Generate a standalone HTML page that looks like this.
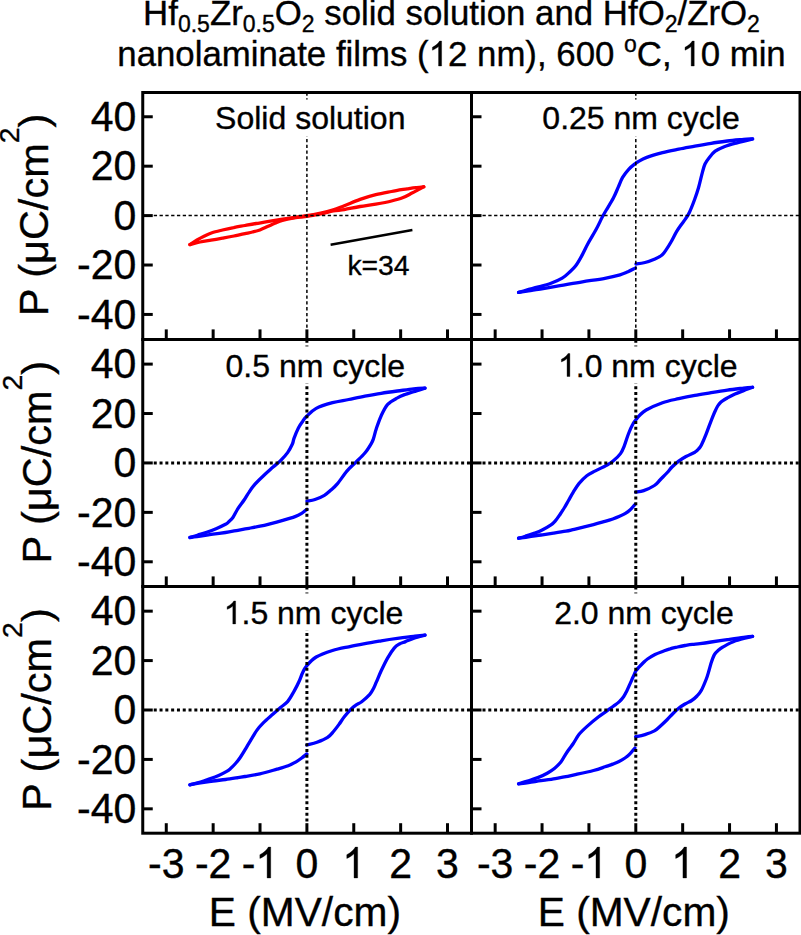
<!DOCTYPE html><html><head><meta charset="utf-8"><style>html,body{margin:0;padding:0;background:#fff;width:801px;height:935px;overflow:hidden}</style></head><body><svg width="801" height="935" viewBox="0 0 801 935" style="display:block"><defs><path id="g1" d="M763 0H583V1147Q518 1085 412 1023Q306 961 221 930V1104Q372 1175 485 1276Q598 1377 645 1466H763Z"></path></defs>
<rect width="801" height="935" fill="#fff"></rect>
<text x="451.5" y="25" font-size="34.8" text-anchor="middle" font-family="Liberation Sans, sans-serif" stroke="#000" stroke-width="0.35">Hf<tspan font-size="23" dy="7">0.5</tspan><tspan dy="-7">Zr</tspan><tspan font-size="23" dy="7">0.5</tspan><tspan dy="-7">O</tspan><tspan font-size="23" dy="7">2</tspan><tspan dy="-7"> solid solution and HfO</tspan><tspan font-size="23" dy="7">2</tspan><tspan dy="-7">/ZrO</tspan><tspan font-size="23" dy="7">2</tspan></text>
<text x="451.5" y="66" font-size="34.8" text-anchor="middle" font-family="Liberation Sans, sans-serif" stroke="#000" stroke-width="0.35">nanolaminate films ( 2 nm), 600 <tspan font-size="23" dy="-14">o</tspan><tspan dy="14">C,  0 min</tspan></text>
<g fill="none" stroke-width="3.3" stroke-linejoin="round" stroke-linecap="round">
<path stroke="#ff0000" d="M189.9,244.6 C191.1,243.8 194.6,241.4 197.0,240.0 C199.4,238.6 202.0,237.2 204.5,236.0 C207.0,234.8 209.0,233.8 212.0,232.8 C215.0,231.8 218.9,230.9 222.5,230.0 C226.1,229.1 229.9,228.3 233.7,227.6 C237.4,226.8 241.3,226.2 245.0,225.5 C248.7,224.8 252.3,224.1 256.0,223.5 C259.7,222.9 263.2,222.4 267.4,221.7 C271.5,221.0 276.6,220.2 280.9,219.5 C285.2,218.8 289.0,218.2 293.0,217.6 C297.0,217.0 300.4,216.7 305.0,216.0 C309.6,215.3 316.0,214.2 320.7,213.2 C325.4,212.2 329.4,211.1 333.3,209.8 C337.2,208.6 339.8,207.4 344.3,205.7 C348.8,204.0 354.9,201.2 360.1,199.4 C365.4,197.6 370.6,196.0 375.8,194.7 C381.0,193.4 386.3,192.5 391.5,191.5 C396.7,190.5 403.1,189.5 407.2,188.8 C411.3,188.2 413.2,187.9 416.0,187.6 C418.8,187.3 422.5,186.9 423.8,186.8"></path>
<path stroke="#ff0000" d="M189.9,244.6 C191.6,244.2 196.5,242.7 200.0,242.0 C203.5,241.3 207.2,240.8 211.0,240.2 C214.8,239.6 218.7,238.9 222.5,238.2 C226.3,237.5 230.2,236.8 234.0,236.0 C237.8,235.2 241.9,234.4 245.0,233.7 C248.1,233.0 250.0,232.6 252.5,232.0 C255.0,231.4 257.4,230.9 259.9,230.0 C262.4,229.1 265.0,227.7 267.5,226.6 C270.0,225.5 272.4,224.2 274.9,223.2 C277.4,222.2 279.4,221.2 282.4,220.4 C285.4,219.6 289.2,218.8 293.0,218.2 C296.8,217.5 300.4,217.2 305.0,216.5 C309.6,215.8 316.0,214.7 320.7,213.8 C325.4,212.9 329.4,211.7 333.3,211.0 C337.2,210.3 339.8,210.3 344.3,209.6 C348.8,208.8 354.9,207.4 360.1,206.5 C365.4,205.6 370.6,205.0 375.8,204.1 C381.0,203.2 387.1,202.1 391.5,201.0 C395.9,199.9 399.1,199.1 402.5,197.8 C405.9,196.5 409.4,194.4 412.0,193.1 C414.6,191.8 416.0,190.9 418.0,189.8 C420.0,188.8 422.8,187.3 423.8,186.8"></path>
<path stroke="#0000ff" d="M752.6,138.9 C751.1,139.0 747.8,139.1 743.6,139.4 C739.4,139.8 732.8,140.3 727.4,141.0 C722.0,141.7 716.6,142.4 711.2,143.3 C705.8,144.2 700.3,145.2 694.9,146.2 C689.5,147.2 684.1,148.1 678.7,149.2 C673.3,150.3 667.9,151.3 662.5,152.7 C657.1,154.1 650.3,156.1 646.2,157.6 C642.1,159.1 639.8,160.8 638.1,161.7 C636.4,162.6 637.4,161.9 635.8,163.2 C634.2,164.5 630.9,166.9 628.7,169.3 C626.5,171.7 624.3,174.5 622.6,177.4 C620.9,180.3 620.0,183.2 618.5,186.6 C617.0,190.0 615.5,193.9 613.5,197.8 C611.5,201.7 608.2,206.8 606.3,210.0 C604.4,213.2 604.0,213.9 602.3,217.1 C600.6,220.3 598.6,224.9 596.2,229.3 C593.8,233.7 590.3,239.3 588.0,243.5 C585.7,247.7 584.4,250.9 582.4,254.6 C580.4,258.3 577.9,262.8 575.7,265.8 C573.5,268.8 571.2,270.5 569.0,272.6 C566.8,274.7 565.2,276.4 562.2,278.2 C559.2,280.0 555.1,281.8 551.0,283.3 C546.9,284.8 541.6,286.1 537.5,287.2 C533.4,288.3 529.6,289.1 526.5,290.0 C523.4,290.9 519.9,292.0 518.6,292.4"></path>
<path stroke="#0000ff" d="M518.6,292.4 C520.0,292.2 522.9,291.8 527.0,291.2 C531.1,290.6 537.6,289.4 543.1,288.5 C548.6,287.6 553.5,286.8 560.0,285.7 C566.5,284.6 574.9,283.0 582.4,281.8 C589.9,280.6 598.6,279.5 604.9,278.3 C611.2,277.1 616.1,275.9 620.0,274.8 C623.9,273.7 625.4,272.8 628.0,271.7 C630.6,270.6 634.2,268.6 635.5,268.0"></path>
<path stroke="#0000ff" d="M636.0,264.0 C637.5,263.8 641.8,263.3 645.0,262.5 C648.2,261.7 652.2,260.2 655.0,259.0 C657.8,257.8 660.1,256.6 662.0,255.0 C663.9,253.4 664.9,251.6 666.4,249.4 C667.9,247.2 669.3,245.0 671.0,242.0 C672.7,239.0 675.0,234.2 676.7,231.4 C678.4,228.6 679.5,227.1 681.0,225.0 C682.5,222.9 684.3,220.7 685.7,218.6 C687.1,216.5 688.0,215.4 689.5,212.2 C691.0,209.0 693.2,203.4 694.7,199.3 C696.2,195.2 697.2,192.3 698.5,187.8 C699.8,183.3 701.3,176.4 702.4,172.4 C703.5,168.4 703.9,166.4 705.0,164.0 C706.1,161.6 707.1,160.3 708.8,158.2 C710.5,156.1 712.6,153.1 715.2,151.2 C717.8,149.3 720.6,148.1 724.2,146.7 C727.8,145.3 732.3,144.1 737.0,142.8 C741.7,141.5 750.0,139.6 752.6,139.0"></path>
<path stroke="#0000ff" d="M425.0,388.1 C423.1,388.2 418.2,388.4 413.6,388.9 C409.0,389.4 402.8,390.3 397.4,391.0 C392.0,391.7 386.6,392.4 381.2,393.3 C375.8,394.2 370.3,395.2 364.9,396.2 C359.5,397.2 354.1,398.4 348.7,399.5 C343.3,400.6 337.9,401.2 332.5,402.7 C327.1,404.2 320.5,406.1 316.2,408.4 C311.9,410.7 308.7,414.4 306.5,416.5 C304.3,418.6 304.2,419.1 302.9,421.0 C301.5,422.9 299.9,425.1 298.4,428.0 C296.9,430.9 295.0,435.7 294.0,438.4 C293.0,441.1 293.5,441.6 292.4,444.0 C291.3,446.4 289.5,449.9 287.6,452.6 C285.7,455.3 283.2,457.9 280.8,460.3 C278.4,462.7 276.0,464.5 273.1,467.1 C270.2,469.7 266.6,472.8 263.5,475.7 C260.4,478.6 257.2,481.7 254.8,484.4 C252.4,487.1 250.8,489.5 249.1,492.1 C247.3,494.7 246.2,497.0 244.3,499.8 C242.4,502.6 239.8,505.8 237.9,508.7 C236.0,511.6 234.4,515.4 232.9,517.5 C231.4,519.6 230.2,520.4 229.0,521.5 C227.8,522.6 227.7,523.1 225.5,524.3 C223.3,525.5 219.2,527.4 216.1,528.7 C213.0,530.0 209.8,531.2 206.7,532.3 C203.6,533.4 200.2,534.3 197.4,535.2 C194.6,536.1 191.2,537.1 189.9,537.5"></path>
<path stroke="#0000ff" d="M189.9,537.5 C191.7,537.2 196.7,536.5 200.5,536.0 C204.3,535.5 208.8,534.8 213.0,534.2 C217.2,533.6 221.3,533.1 225.5,532.5 C229.7,531.9 234.0,531.0 237.9,530.3 C241.8,529.6 245.3,529.0 249.0,528.3 C252.7,527.6 256.5,527.0 260.0,526.2 C263.5,525.5 266.2,524.8 270.0,523.8 C273.8,522.8 278.6,521.5 282.8,520.3 C287.0,519.1 291.9,517.7 295.0,516.6 C298.1,515.5 299.2,514.9 301.2,513.7 C303.2,512.5 305.9,510.0 306.9,509.3"></path>
<path stroke="#0000ff" d="M306.9,501.2 C308.2,500.9 312.1,500.5 315.0,499.5 C317.9,498.5 321.7,496.9 324.4,495.3 C327.1,493.7 328.9,491.9 331.0,490.0 C333.1,488.1 334.6,487.1 337.3,483.9 C340.0,480.7 344.1,474.4 347.1,470.9 C350.1,467.4 352.2,465.8 355.2,462.8 C358.2,459.8 362.2,456.2 364.9,453.0 C367.6,449.8 370.0,445.7 371.4,443.3 C372.8,440.9 372.7,440.9 373.5,438.5 C374.3,436.1 375.0,432.5 376.3,428.7 C377.6,424.9 379.3,419.8 381.2,415.7 C383.1,411.6 385.0,407.4 387.7,404.4 C390.4,401.4 394.5,399.5 397.4,397.9 C400.3,396.2 402.3,395.5 405.0,394.5 C407.7,393.5 410.3,392.8 413.6,391.7 C416.9,390.6 423.1,388.7 425.0,388.1"></path>
<path stroke="#0000ff" d="M752.6,387.3 C751.1,387.4 747.8,387.6 743.6,388.1 C739.4,388.6 732.8,389.3 727.4,390.1 C722.0,390.9 716.6,391.8 711.2,392.7 C705.8,393.6 700.3,394.4 694.9,395.4 C689.5,396.4 684.1,397.5 678.7,398.7 C673.3,399.9 667.9,400.8 662.5,402.7 C657.1,404.6 650.0,407.9 646.2,410.0 C642.5,412.1 641.6,413.5 640.0,415.0 C638.4,416.5 637.7,417.5 636.5,419.0 C635.3,420.5 634.2,421.5 632.9,424.0 C631.5,426.5 629.8,430.4 628.4,434.0 C627.0,437.6 625.6,442.6 624.3,445.9 C623.0,449.2 622.4,451.0 620.5,453.6 C618.6,456.2 615.2,459.3 612.8,461.3 C610.4,463.3 608.9,464.0 606.0,465.6 C603.1,467.2 598.6,469.2 595.4,470.9 C592.2,472.6 589.5,473.6 586.8,475.7 C584.1,477.8 581.4,480.7 579.1,483.4 C576.9,486.1 575.1,489.2 573.3,492.1 C571.5,495.0 570.0,497.9 568.5,500.5 C567.0,503.1 565.9,505.2 564.5,507.5 C563.1,509.8 561.5,512.3 560.0,514.5 C558.5,516.7 557.0,519.0 555.5,520.7 C554.0,522.4 553.2,523.4 551.0,524.9 C548.8,526.4 544.9,528.6 542.2,530.0 C539.5,531.4 537.5,532.1 534.7,533.1 C531.9,534.1 528.1,535.4 525.4,536.2 C522.7,537.1 519.7,537.9 518.6,538.2"></path>
<path stroke="#0000ff" d="M518.6,538.2 C520.2,538.0 524.8,537.4 528.5,536.9 C532.2,536.4 536.8,535.6 541.0,535.0 C545.2,534.4 549.4,533.7 553.5,533.1 C557.6,532.5 562.4,531.8 565.9,531.2 C569.4,530.6 569.7,530.4 574.3,529.3 C578.9,528.2 588.4,525.9 593.5,524.6 C598.6,523.3 601.8,522.3 605.0,521.4 C608.2,520.5 610.5,519.8 612.8,519.0 C615.1,518.2 617.0,517.5 619.0,516.6 C621.0,515.7 623.2,514.7 625.0,513.6 C626.8,512.5 628.1,511.7 629.7,510.2 C631.4,508.7 634.0,505.5 634.9,504.6"></path>
<path stroke="#0000ff" d="M635.6,492.2 C637.0,491.9 640.6,491.7 643.7,490.6 C646.8,489.5 651.7,487.3 654.4,485.5 C657.1,483.7 657.9,482.2 660.0,480.0 C662.1,477.8 665.3,474.7 667.3,472.5 C669.3,470.3 670.1,468.9 672.0,467.0 C673.9,465.1 676.4,462.9 678.7,461.1 C681.0,459.4 683.3,458.0 686.0,456.5 C688.7,455.0 692.8,453.4 694.9,452.2 C697.0,450.9 697.4,450.2 698.5,449.0 C699.6,447.8 700.1,447.5 701.4,444.9 C702.7,442.3 704.7,437.7 706.3,433.6 C707.9,429.6 709.8,424.1 711.2,420.6 C712.6,417.1 713.4,414.9 714.5,412.5 C715.6,410.1 716.6,407.8 717.7,406.0 C718.8,404.2 719.4,403.4 721.0,402.0 C722.6,400.6 725.1,399.2 727.4,397.9 C729.7,396.6 732.3,395.2 735.0,394.0 C737.7,392.8 740.7,391.7 743.6,390.6 C746.5,389.5 751.1,387.9 752.6,387.3"></path>
<path stroke="#0000ff" d="M425.0,635.1 C423.1,635.3 418.2,635.9 413.6,636.4 C409.0,636.9 402.8,637.7 397.4,638.4 C392.0,639.1 386.6,639.9 381.2,640.8 C375.8,641.7 370.3,642.6 364.9,643.6 C359.5,644.6 354.1,645.6 348.7,646.8 C343.3,647.9 337.9,648.8 332.5,650.5 C327.1,652.2 320.5,654.4 316.2,657.0 C311.9,659.6 308.8,663.3 306.5,666.0 C304.2,668.7 303.7,670.6 302.5,673.0 C301.3,675.4 300.9,677.4 299.5,680.5 C298.1,683.6 296.0,687.9 294.0,691.4 C292.0,694.9 289.8,699.0 287.6,701.6 C285.4,704.2 283.2,705.2 280.8,707.3 C278.4,709.4 276.0,711.5 273.1,714.1 C270.2,716.7 266.2,720.0 263.5,722.7 C260.8,725.4 258.7,727.8 256.8,730.4 C254.9,733.0 253.8,735.2 252.0,738.1 C250.2,741.0 248.1,744.6 246.2,747.8 C244.3,751.0 242.2,754.6 240.4,757.2 C238.6,759.8 237.2,761.6 235.5,763.5 C233.8,765.4 232.0,767.3 230.5,768.6 C229.0,769.9 228.6,770.3 226.7,771.4 C224.8,772.5 222.0,774.0 219.2,775.2 C216.4,776.4 212.9,777.7 209.8,778.8 C206.7,779.9 203.8,781.0 200.5,782.0 C197.2,783.0 191.7,784.3 189.9,784.8"></path>
<path stroke="#0000ff" d="M189.9,784.8 C191.7,784.5 196.7,783.5 200.5,782.9 C204.3,782.3 208.8,781.6 213.0,781.0 C217.2,780.4 221.3,780.1 225.5,779.5 C229.7,778.9 234.7,778.1 237.9,777.6 C241.1,777.1 241.2,777.1 244.9,776.5 C248.6,775.9 254.5,775.0 259.9,773.8 C265.2,772.6 272.3,770.5 277.0,769.2 C281.7,767.9 285.1,767.0 288.2,765.8 C291.3,764.6 293.4,763.4 295.7,762.1 C297.9,760.8 299.8,759.4 301.7,758.0 C303.6,756.6 306.0,754.6 306.9,753.9"></path>
<path stroke="#0000ff" d="M306.9,745.0 C308.6,744.5 313.6,743.6 317.0,742.3 C320.4,741.0 324.9,739.2 327.6,737.4 C330.4,735.6 331.6,733.7 333.5,731.5 C335.4,729.3 337.2,726.9 339.0,724.4 C340.8,721.9 342.6,718.9 344.5,716.5 C346.4,714.1 348.5,711.7 350.3,709.8 C352.1,707.9 353.6,706.6 355.5,705.3 C357.4,703.9 359.3,703.5 361.7,701.7 C364.1,699.9 367.8,696.6 369.8,694.4 C371.8,692.2 372.4,690.5 373.5,688.5 C374.6,686.5 375.0,685.2 376.3,682.2 C377.6,679.2 379.3,674.9 381.2,670.8 C383.1,666.7 385.5,661.6 387.7,657.8 C389.9,654.0 392.3,650.4 394.2,648.1 C396.1,645.8 397.1,645.3 399.0,644.2 C400.9,643.1 403.0,642.6 405.5,641.6 C408.0,640.6 410.8,639.3 414.0,638.2 C417.2,637.1 423.2,635.6 425.0,635.1"></path>
<path stroke="#0000ff" d="M752.6,636.4 C751.1,636.5 747.8,636.8 743.6,637.3 C739.4,637.8 732.8,638.8 727.4,639.6 C722.0,640.4 715.8,641.3 711.2,642.0 C706.6,642.7 703.1,643.2 700.0,643.6 C696.9,644.0 694.9,644.1 692.4,644.4 C689.9,644.7 687.5,645.1 685.0,645.5 C682.5,645.9 680.0,646.4 677.5,647.0 C675.0,647.6 672.5,648.1 670.0,648.9 C667.5,649.6 665.0,650.6 662.5,651.5 C660.0,652.4 657.5,653.2 655.0,654.5 C652.5,655.8 649.4,657.7 647.5,659.0 C645.6,660.3 644.9,661.1 643.5,662.5 C642.1,663.9 640.3,665.8 639.0,667.2 C637.7,668.6 636.8,669.4 635.8,671.0 C634.8,672.6 634.2,674.6 633.2,676.8 C632.2,678.9 631.1,681.5 630.0,683.9 C628.9,686.2 627.9,688.8 626.8,690.9 C625.7,693.0 624.9,694.9 623.6,696.7 C622.3,698.5 620.8,700.3 619.1,701.9 C617.4,703.5 615.3,704.8 613.3,706.3 C611.3,707.8 609.4,709.0 606.9,710.8 C604.4,712.6 601.6,714.4 598.3,717.0 C594.9,719.6 590.0,723.7 586.8,726.6 C583.6,729.5 581.4,731.5 579.1,734.3 C576.9,737.1 575.1,740.9 573.3,743.5 C571.5,746.1 569.8,748.1 568.5,750.0 C567.2,751.9 566.6,752.8 565.3,754.8 C564.0,756.8 562.7,759.8 560.9,762.0 C559.1,764.2 557.0,766.3 554.7,768.2 C552.4,770.1 550.0,771.6 547.2,773.2 C544.4,774.8 540.9,776.4 537.8,777.6 C534.7,778.9 531.7,779.7 528.5,780.7 C525.3,781.7 520.2,783.3 518.6,783.8"></path>
<path stroke="#0000ff" d="M518.6,783.8 C520.2,783.6 524.8,783.1 528.5,782.6 C532.2,782.1 536.8,781.3 541.0,780.7 C545.2,780.1 549.4,779.5 553.5,778.8 C557.6,778.1 562.4,777.4 565.9,776.7 C569.4,776.0 569.7,775.8 574.3,774.8 C578.9,773.8 588.4,771.8 593.5,770.5 C598.6,769.2 601.8,767.9 605.0,766.8 C608.2,765.7 610.5,765.0 612.8,764.1 C615.1,763.2 617.0,762.5 619.0,761.5 C621.0,760.5 623.2,759.2 625.0,758.0 C626.8,756.8 628.1,755.9 629.7,754.2 C631.4,752.5 634.0,749.0 634.9,748.0"></path>
<path stroke="#0000ff" d="M635.6,736.7 C637.2,736.4 641.9,735.6 645.0,734.6 C648.1,733.6 651.7,732.4 654.4,730.9 C657.1,729.4 658.9,727.4 661.0,725.5 C663.1,723.6 665.3,721.5 667.3,719.5 C669.3,717.5 671.1,715.4 673.0,713.5 C674.9,711.6 676.7,709.8 678.7,708.2 C680.7,706.6 682.8,705.3 685.0,704.0 C687.2,702.7 689.7,701.8 691.7,700.5 C693.7,699.2 695.4,697.7 697.0,696.0 C698.6,694.3 699.9,693.1 701.4,690.3 C702.9,687.5 705.0,682.3 706.3,679.0 C707.6,675.7 708.2,673.2 709.0,670.5 C709.8,667.8 710.3,665.4 711.2,662.7 C712.1,660.1 713.3,656.6 714.4,654.6 C715.5,652.6 716.6,651.7 718.0,650.5 C719.4,649.3 719.6,648.9 722.5,647.3 C725.4,645.7 730.5,642.6 735.5,640.8 C740.5,639.0 749.8,637.1 752.6,636.4"></path>
</g>
<g stroke="#000" stroke-width="1.5" stroke-dasharray="3.3 2.5">
<line x1="153.75" y1="215.6" x2="471.5" y2="215.6"></line>
<line x1="306.9" y1="327.79999999999995" x2="306.9" y2="92.5"></line>
<line x1="482.5" y1="215.6" x2="800" y2="215.6"></line>
<line x1="635.8" y1="327.79999999999995" x2="635.8" y2="92.5"></line>
</g>
<g stroke="#000" stroke-width="3" stroke-dasharray="3 2.8">
<line x1="153.75" y1="462.95" x2="471.5" y2="462.95"></line>
<line x1="306.9" y1="574.8" x2="306.9" y2="339.4"></line>
<line x1="482.5" y1="462.95" x2="800" y2="462.95"></line>
<line x1="635.8" y1="574.8" x2="635.8" y2="339.4"></line>
</g>
<g stroke="#000" stroke-width="3" stroke-dasharray="3 2.8">
<line x1="153.75" y1="710.0" x2="471.5" y2="710.0"></line>
<line x1="306.9" y1="821.6" x2="306.9" y2="586.4"></line>
<line x1="482.5" y1="710.0" x2="800" y2="710.0"></line>
<line x1="635.8" y1="821.6" x2="635.8" y2="586.4"></line>
</g>
<line x1="330.6" y1="244.7" x2="412.4" y2="230" stroke="#000" stroke-width="2.4"></line>
<text x="378.5" y="274.8" font-size="28.3" text-anchor="middle" font-family="Liberation Sans, sans-serif" stroke="#000" stroke-width="0.35">k=34</text>
<rect x="212.9" y="99.5" width="194.7" height="37" fill="#fff"></rect>
<text x="310.25" y="129.29999999999998" font-size="32" text-anchor="middle" font-family="Liberation Sans, sans-serif" stroke="#000" stroke-width="0.35">Solid solution</text>
<rect x="540.1" y="99.5" width="201.9" height="37" fill="#fff"></rect>
<text x="641.05" y="129.29999999999998" font-size="32" text-anchor="middle" font-family="Liberation Sans, sans-serif" stroke="#000" stroke-width="0.35">0.25 nm cycle</text>
<rect x="222.6" y="346.4" width="185.5" height="37" fill="#fff"></rect>
<text x="315.35" y="376.5" font-size="32" text-anchor="middle" font-family="Liberation Sans, sans-serif" stroke="#000" stroke-width="0.35">0.5 nm cycle</text>
<rect x="556.2" y="346.4" width="183.1" height="37" fill="#fff"></rect>
<text x="647.75" y="376.5" font-size="32" text-anchor="middle" font-family="Liberation Sans, sans-serif" stroke="#000" stroke-width="0.35"> .0 nm cycle</text>
<rect x="222.2" y="593.4" width="182.6" height="37" fill="#fff"></rect>
<text x="313.5" y="623.9000000000001" font-size="32" text-anchor="middle" font-family="Liberation Sans, sans-serif" stroke="#000" stroke-width="0.35"> .5 nm cycle</text>
<rect x="551.4" y="593.4" width="185.1" height="37" fill="#fff"></rect>
<text x="643.95" y="623.9000000000001" font-size="32" text-anchor="middle" font-family="Liberation Sans, sans-serif" stroke="#000" stroke-width="0.35">2.0 nm cycle</text>
<g stroke="#000" stroke-width="3" fill="none" stroke-linecap="square">
<rect x="142.75" y="92.5" width="657.25" height="740.7"></rect>
<line x1="471.5" y1="92.5" x2="471.5" y2="833.2"></line>
<line x1="142.75" y1="339.4" x2="800" y2="339.4"></line>
<line x1="142.75" y1="586.4" x2="800" y2="586.4"></line>
</g>
<g stroke="#000" stroke-width="3" fill="none">
<line x1="142.75" y1="314.44" x2="152.75" y2="314.44"></line>
<line x1="142.75" y1="265.02" x2="152.75" y2="265.02"></line>
<line x1="142.75" y1="215.60" x2="152.75" y2="215.60"></line>
<line x1="142.75" y1="166.18" x2="152.75" y2="166.18"></line>
<line x1="142.75" y1="116.76" x2="152.75" y2="116.76"></line>
<line x1="166.27" y1="339.4" x2="166.27" y2="329.4"></line>
<line x1="213.15" y1="339.4" x2="213.15" y2="329.4"></line>
<line x1="260.02" y1="339.4" x2="260.02" y2="329.4"></line>
<line x1="306.90" y1="339.4" x2="306.90" y2="329.4"></line>
<line x1="353.77" y1="339.4" x2="353.77" y2="329.4"></line>
<line x1="400.65" y1="339.4" x2="400.65" y2="329.4"></line>
<line x1="447.52" y1="339.4" x2="447.52" y2="329.4"></line>
<line x1="142.75" y1="561.79" x2="152.75" y2="561.79"></line>
<line x1="142.75" y1="512.37" x2="152.75" y2="512.37"></line>
<line x1="142.75" y1="462.95" x2="152.75" y2="462.95"></line>
<line x1="142.75" y1="413.53" x2="152.75" y2="413.53"></line>
<line x1="142.75" y1="364.11" x2="152.75" y2="364.11"></line>
<line x1="166.27" y1="586.4" x2="166.27" y2="576.4"></line>
<line x1="213.15" y1="586.4" x2="213.15" y2="576.4"></line>
<line x1="260.02" y1="586.4" x2="260.02" y2="576.4"></line>
<line x1="306.90" y1="586.4" x2="306.90" y2="576.4"></line>
<line x1="353.77" y1="586.4" x2="353.77" y2="576.4"></line>
<line x1="400.65" y1="586.4" x2="400.65" y2="576.4"></line>
<line x1="447.52" y1="586.4" x2="447.52" y2="576.4"></line>
<line x1="142.75" y1="808.84" x2="152.75" y2="808.84"></line>
<line x1="142.75" y1="759.42" x2="152.75" y2="759.42"></line>
<line x1="142.75" y1="710.00" x2="152.75" y2="710.00"></line>
<line x1="142.75" y1="660.58" x2="152.75" y2="660.58"></line>
<line x1="142.75" y1="611.16" x2="152.75" y2="611.16"></line>
<line x1="166.27" y1="833.2" x2="166.27" y2="823.2"></line>
<line x1="213.15" y1="833.2" x2="213.15" y2="823.2"></line>
<line x1="260.02" y1="833.2" x2="260.02" y2="823.2"></line>
<line x1="306.90" y1="833.2" x2="306.90" y2="823.2"></line>
<line x1="353.77" y1="833.2" x2="353.77" y2="823.2"></line>
<line x1="400.65" y1="833.2" x2="400.65" y2="823.2"></line>
<line x1="447.52" y1="833.2" x2="447.52" y2="823.2"></line>
<line x1="471.5" y1="314.44" x2="481.5" y2="314.44"></line>
<line x1="471.5" y1="265.02" x2="481.5" y2="265.02"></line>
<line x1="471.5" y1="215.60" x2="481.5" y2="215.60"></line>
<line x1="471.5" y1="166.18" x2="481.5" y2="166.18"></line>
<line x1="471.5" y1="116.76" x2="481.5" y2="116.76"></line>
<line x1="495.17" y1="339.4" x2="495.17" y2="329.4"></line>
<line x1="542.05" y1="339.4" x2="542.05" y2="329.4"></line>
<line x1="588.92" y1="339.4" x2="588.92" y2="329.4"></line>
<line x1="635.80" y1="339.4" x2="635.80" y2="329.4"></line>
<line x1="682.67" y1="339.4" x2="682.67" y2="329.4"></line>
<line x1="729.55" y1="339.4" x2="729.55" y2="329.4"></line>
<line x1="776.42" y1="339.4" x2="776.42" y2="329.4"></line>
<line x1="471.5" y1="561.79" x2="481.5" y2="561.79"></line>
<line x1="471.5" y1="512.37" x2="481.5" y2="512.37"></line>
<line x1="471.5" y1="462.95" x2="481.5" y2="462.95"></line>
<line x1="471.5" y1="413.53" x2="481.5" y2="413.53"></line>
<line x1="471.5" y1="364.11" x2="481.5" y2="364.11"></line>
<line x1="495.17" y1="586.4" x2="495.17" y2="576.4"></line>
<line x1="542.05" y1="586.4" x2="542.05" y2="576.4"></line>
<line x1="588.92" y1="586.4" x2="588.92" y2="576.4"></line>
<line x1="635.80" y1="586.4" x2="635.80" y2="576.4"></line>
<line x1="682.67" y1="586.4" x2="682.67" y2="576.4"></line>
<line x1="729.55" y1="586.4" x2="729.55" y2="576.4"></line>
<line x1="776.42" y1="586.4" x2="776.42" y2="576.4"></line>
<line x1="471.5" y1="808.84" x2="481.5" y2="808.84"></line>
<line x1="471.5" y1="759.42" x2="481.5" y2="759.42"></line>
<line x1="471.5" y1="710.00" x2="481.5" y2="710.00"></line>
<line x1="471.5" y1="660.58" x2="481.5" y2="660.58"></line>
<line x1="471.5" y1="611.16" x2="481.5" y2="611.16"></line>
<line x1="495.17" y1="833.2" x2="495.17" y2="823.2"></line>
<line x1="542.05" y1="833.2" x2="542.05" y2="823.2"></line>
<line x1="588.92" y1="833.2" x2="588.92" y2="823.2"></line>
<line x1="635.80" y1="833.2" x2="635.80" y2="823.2"></line>
<line x1="682.67" y1="833.2" x2="682.67" y2="823.2"></line>
<line x1="729.55" y1="833.2" x2="729.55" y2="823.2"></line>
<line x1="776.42" y1="833.2" x2="776.42" y2="823.2"></line>
</g>
<g font-size="41" text-anchor="end" font-family="Liberation Sans, sans-serif" stroke="#000" stroke-width="0.35">
<text transform="translate(136.3 313.14) scale(1 1.05)" x="0" y="14.7">-40</text>
<text transform="translate(136.3 263.72) scale(1 1.05)" x="0" y="14.7">-20</text>
<text transform="translate(136.3 214.30) scale(1 1.05)" x="0" y="14.7">0</text>
<text transform="translate(136.3 164.88) scale(1 1.05)" x="0" y="14.7">20</text>
<text transform="translate(136.3 115.46) scale(1 1.05)" x="0" y="14.7">40</text>
<text transform="translate(136.3 560.49) scale(1 1.05)" x="0" y="14.7">-40</text>
<text transform="translate(136.3 511.07) scale(1 1.05)" x="0" y="14.7">-20</text>
<text transform="translate(136.3 461.65) scale(1 1.05)" x="0" y="14.7">0</text>
<text transform="translate(136.3 412.23) scale(1 1.05)" x="0" y="14.7">20</text>
<text transform="translate(136.3 362.81) scale(1 1.05)" x="0" y="14.7">40</text>
<text transform="translate(136.3 807.54) scale(1 1.05)" x="0" y="14.7">-40</text>
<text transform="translate(136.3 758.12) scale(1 1.05)" x="0" y="14.7">-20</text>
<text transform="translate(136.3 708.70) scale(1 1.05)" x="0" y="14.7">0</text>
<text transform="translate(136.3 659.28) scale(1 1.05)" x="0" y="14.7">20</text>
<text transform="translate(136.3 609.86) scale(1 1.05)" x="0" y="14.7">40</text>
</g>
<g font-size="41" text-anchor="middle" font-family="Liberation Sans, sans-serif" stroke="#000" stroke-width="0.35">
<text transform="translate(166.27 862.5) scale(1 1.05)" x="0" y="14.7">-3</text>
<text transform="translate(213.15 862.5) scale(1 1.05)" x="0" y="14.7">-2</text>
<text transform="translate(260.02 862.5) scale(1 1.05)" x="0" y="14.7">- </text>
<text transform="translate(306.90 862.5) scale(1 1.05)" x="0" y="14.7">0</text>
<text transform="translate(353.77 862.5) scale(1 1.05)" x="0" y="14.7"> </text>
<text transform="translate(400.65 862.5) scale(1 1.05)" x="0" y="14.7">2</text>
<text transform="translate(447.52 862.5) scale(1 1.05)" x="0" y="14.7">3</text>
<text transform="translate(495.17 862.5) scale(1 1.05)" x="0" y="14.7">-3</text>
<text transform="translate(542.05 862.5) scale(1 1.05)" x="0" y="14.7">-2</text>
<text transform="translate(588.92 862.5) scale(1 1.05)" x="0" y="14.7">- </text>
<text transform="translate(635.80 862.5) scale(1 1.05)" x="0" y="14.7">0</text>
<text transform="translate(682.67 862.5) scale(1 1.05)" x="0" y="14.7"> </text>
<text transform="translate(729.55 862.5) scale(1 1.05)" x="0" y="14.7">2</text>
<text transform="translate(776.42 862.5) scale(1 1.05)" x="0" y="14.7">3</text>
</g>
<text x="304.9" y="926" font-size="40.7" text-anchor="middle" font-family="Liberation Sans, sans-serif" stroke="#000" stroke-width="0.35">E (MV/cm)</text>
<text x="633.8" y="926" font-size="40.7" text-anchor="middle" font-family="Liberation Sans, sans-serif" stroke="#000" stroke-width="0.35">E (MV/cm)</text>
<text transform="translate(47.6 316.3) rotate(-90)" x="0" y="0" font-size="41.5" font-family="Liberation Sans, sans-serif" stroke="#000" stroke-width="0.35">P (μC/cm<tspan font-size="28.5" dy="-28.5">2</tspan><tspan dy="28.5">)</tspan></text>
<text transform="translate(50.5 563.5) rotate(-90)" x="0" y="0" font-size="41.5" font-family="Liberation Sans, sans-serif" stroke="#000" stroke-width="0.35">P (μC/cm<tspan font-size="28.5" dy="-28.5">2</tspan><tspan dy="28.5">)</tspan></text>
<text transform="translate(50.5 810.9) rotate(-90)" x="0" y="0" font-size="41.5" font-family="Liberation Sans, sans-serif" stroke="#000" stroke-width="0.35">P (μC/cm<tspan font-size="28.5" dy="-28.5">2</tspan><tspan dy="28.5">)</tspan></text>
<use href="#g1" transform=" translate(428.64 66.00) scale(0.01699 -0.01699)" fill="#000" stroke="#000" stroke-width="20.60"></use><use href="#g1" transform=" translate(681.27 66.00) scale(0.01699 -0.01699)" fill="#000" stroke="#000" stroke-width="20.60"></use><use href="#g1" transform=" translate(557.94 376.50) scale(0.01563 -0.01563)" fill="#000" stroke="#000" stroke-width="22.40"></use><use href="#g1" transform=" translate(223.69 623.90) scale(0.01563 -0.01563)" fill="#000" stroke="#000" stroke-width="22.40"></use><use href="#g1" transform="translate(260.02 862.5) scale(1 1.05) translate(-4.58 14.70) scale(0.02002 -0.02002)" fill="#000" stroke="#000" stroke-width="17.48"></use><use href="#g1" transform="translate(353.77 862.5) scale(1 1.05) translate(-11.40 14.70) scale(0.02002 -0.02002)" fill="#000" stroke="#000" stroke-width="17.48"></use><use href="#g1" transform="translate(588.92 862.5) scale(1 1.05) translate(-4.58 14.70) scale(0.02002 -0.02002)" fill="#000" stroke="#000" stroke-width="17.48"></use><use href="#g1" transform="translate(682.67 862.5) scale(1 1.05) translate(-11.40 14.70) scale(0.02002 -0.02002)" fill="#000" stroke="#000" stroke-width="17.48"></use></svg></body></html>
